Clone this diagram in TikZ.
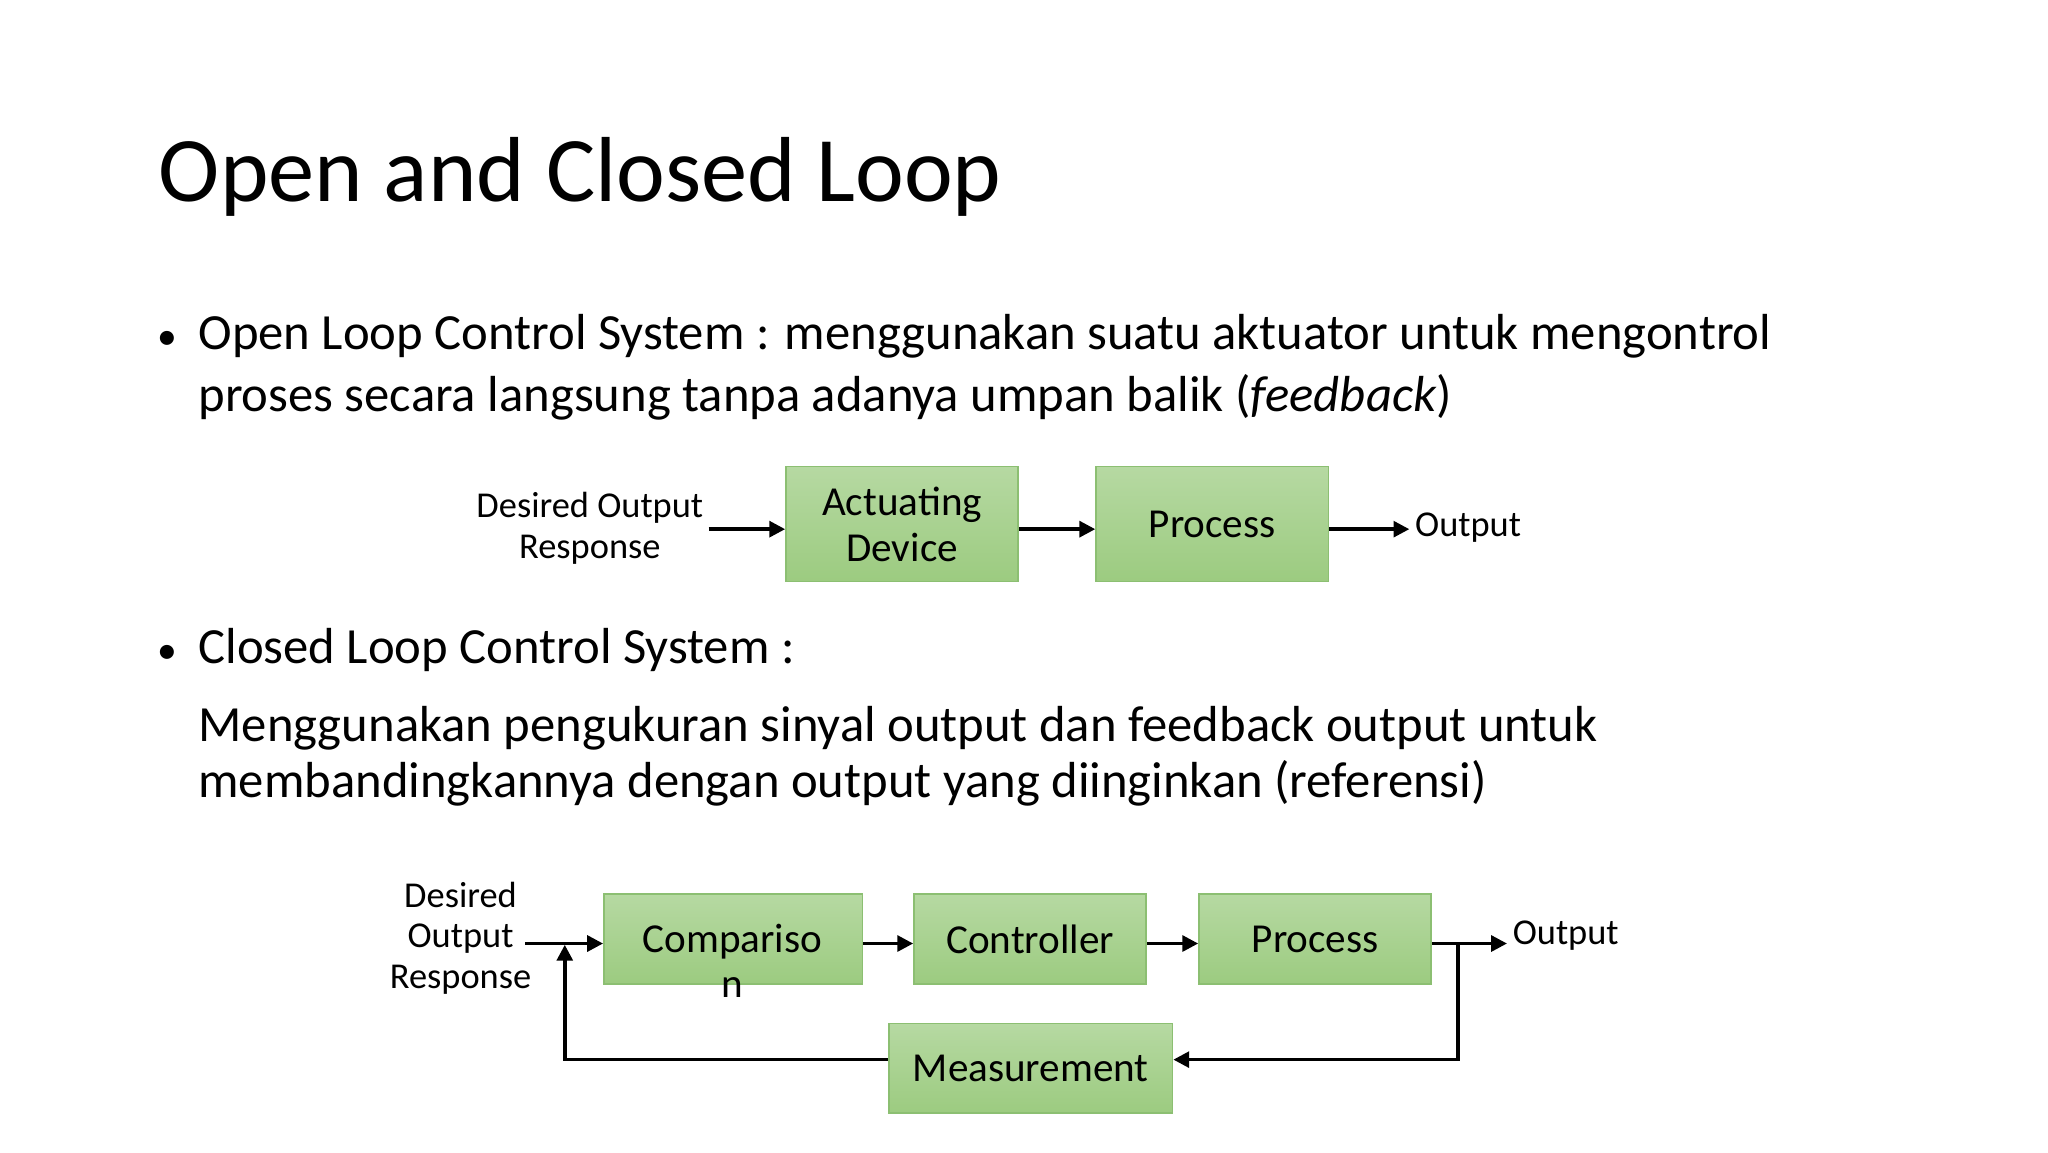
\documentclass[tikz,border=0pt]{standalone}
\usepackage{fontspec}
\setmainfont{Carlito}
\usetikzlibrary{arrows.meta}
\definecolor{gtop}{HTML}{B6D9A2}
\definecolor{gbot}{HTML}{9CCB80}
\definecolor{gbrd}{HTML}{8CBF72}
\begin{document}
\begin{tikzpicture}[x=0.5pt,y=-0.5pt,
 box/.style={draw=gbrd, top color=gtop, bottom color=gbot, line width=0.6pt, inner sep=0pt, font=\fontsize{15.6}{17.5}\selectfont, align=center, anchor=north west},
 lab/.style={font=\fontsize{13.8}{15.5}\selectfont, align=center},
 ar/.style={line width=1.3pt, -{Triangle[length=6pt,width=6pt]}},
 body/.style={font=\fontsize{19.2}{24}\selectfont, anchor=base west}]
\useasboundingbox (0,0) rectangle (1552,873);
\node[anchor=base west, font=\fontsize{35}{40}\selectfont, inner sep=0pt] (title) at (120,153) {Open and Closed Loop};
\node[body, inner sep=0pt, font=\fontsize{15}{20}\selectfont] (b1) at (119,265) {•};
\node[body, inner sep=0pt] (t1) at (150,265) {Open Loop Control System : menggunakan suatu aktuator untuk mengontrol};
\node[body, inner sep=0pt] (t2) at (150,312) {proses secara langsung tanpa adanya umpan balik (\textit{feedback})};
% open loop
\node[box, minimum width=88pt, minimum height=43.5pt] (act) at (595,353) {Actuating\\Device};
\node[box, minimum width=88pt, minimum height=43.5pt] (proc1) at (830,353) {Process};
\node[lab] (din) at (447,400) {Desired Output\\Response};
\node[lab, anchor=west, inner sep=2pt] (out1) at (1068,400) {Output};
\coordinate (s1) at (537,401);
\draw[ar] (s1) -- (act.west|-s1);
\draw[ar] (act.east|-s1) -- (proc1.west|-s1);
\draw[ar] (proc1.east|-s1) -- (out1.west|-s1);
\node[body, inner sep=0pt, font=\fontsize{15}{20}\selectfont] (b2) at (119,503) {•};
\node[body, inner sep=0pt] (t3) at (150,503) {Closed Loop Control System :};
\node[body, inner sep=0pt] (t4) at (150,562) {Menggunakan pengukuran sinyal output dan feedback output untuk};
\node[body, inner sep=0pt] (t5) at (150,604) {membandingkannya dengan output yang diinginkan (referensi)};
% closed loop
\node[box, minimum width=98pt, minimum height=34pt] (comp) at (457,677) {};
\node[font=\fontsize{15.6}{17}\selectfont, anchor=base] (ctext1) at (555,722) {Compariso};
\node[font=\fontsize{15.6}{17}\selectfont, anchor=base] (ctext2) at (555,756) {n};
\node[box, minimum width=88pt, minimum height=34pt] (ctrl) at (692,677) {Controller};
\node[box, minimum width=88pt, minimum height=34pt] (proc2) at (908,677) {Process};
\node[box, minimum width=107.5pt, minimum height=34pt] (meas) at (673,775) {Measurement};
\node[lab] (din2) at (349,711) {Desired\\Output\\Response};
\node[lab, anchor=west, inner sep=2pt] (out2) at (1142,709) {Output};
\coordinate (s2) at (398,715);
\coordinate (j) at (1105,715);
\coordinate (jd) at (1105,803);
\coordinate (fl) at (428,803);
\coordinate (fu) at (428,716);
\draw[ar] (s2) -- (comp.west|-s2);
\draw[ar] (comp.east|-s2) -- (ctrl.west|-s2);
\draw[ar] (ctrl.east|-s2) -- (proc2.west|-s2);
\draw[ar] (proc2.east|-s2) -- (out2.west|-s2);
\draw[ar] (j) -- (jd) -- (meas.east|-jd);
\draw[ar] (meas.west|-jd) -- (fl) -- (fu);
\end{tikzpicture}
\end{document}
